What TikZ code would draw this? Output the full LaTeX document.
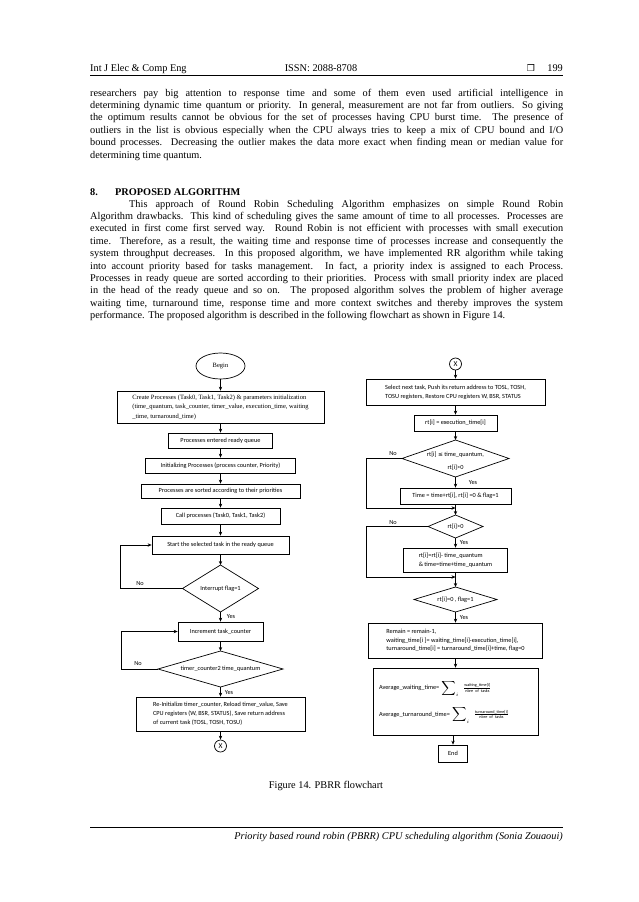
\documentclass[tikz,border=0pt]{standalone}
\usepackage{fontspec}
\setmainfont{Liberation Serif}
\newfontfamily\calfont{Carlito}
\newfontfamily\dvsfont{DejaVu Sans}
\usetikzlibrary{shapes.geometric,arrows.meta}
\newcommand\jline[3]{\node[body] (#1) at (90,#2) {\makebox[473pt][s]{#3}};}
\newcommand\lline[3]{\node[body] (#1) at (90,#2) {#3};}
\begin{document}
\begin{tikzpicture}[x=1pt,y=-1pt,
  body/.style={anchor=base west, inner sep=0pt, font=\fontsize{10.3}{12.4}\selectfont},
  fc/.style={draw, line width=0.7pt, inner sep=1.5pt, align=center, font=\calfont\fontsize{6.3}{9}\selectfont},
  dia/.style={draw, diamond, line width=0.7pt, inner sep=0pt, outer sep=0pt},
  dtxt/.style={inner sep=0pt, align=center, font=\calfont\fontsize{6.3}{8}\selectfont},
  xc/.style={draw, circle, line width=0.7pt, inner sep=0pt, minimum size=12pt, font=\calfont\fontsize{7.5}{8}\selectfont},
  arr/.style={-{Stealth[length=4pt,width=3.4pt]}, line width=0.7pt},
  lbl/.style={inner sep=0pt, font=\calfont\fontsize{6.3}{7}\selectfont}
]
\fill[white] (0,0) rectangle (638,902);
\useasboundingbox (0,0) rectangle (638,902);

% ---------- header ----------
\node[body] (h1) at (90,71) {Int J Elec \& Comp Eng};
\node[body, anchor=base] (h2) at (321,71) {ISSN: 2088-8708};
\node[body, anchor=base] (h3) at (531,71) {{\dvsfont\fontsize{9}{9}\selectfont ❒}};
\node[body, anchor=base east] (h4) at (563,71) {199};
\draw[line width=0.8pt] (90,75) -- (563,75);

% ---------- paragraph 1 ----------
\jline{pa1}{96}{researchers pay big attention to response time and some of them even used artificial intelligence in}
\jline{pa2}{108.4}{determining dynamic time quantum or priority. In general, measurement are not far from outliers. So giving}
\jline{pa3}{120.8}{the optimum results cannot be obvious for the set of processes having CPU burst time. The presence of}
\jline{pa4}{133.2}{outliers in the list is obvious especially when the CPU always tries to keep a mix of CPU bound and I/O}
\jline{pa5}{145.6}{bound processes. Decreasing the outlier makes the data more exact when finding mean or median value for}
\lline{pa6}{158}{determining time quantum.}

% ---------- heading ----------
\node[body, font=\bfseries\fontsize{10.3}{12.4}\selectfont] (hd1) at (90,195) {8.};
\node[body, font=\bfseries\fontsize{10.3}{12.4}\selectfont] (hd2) at (115,195) {PROPOSED ALGORITHM};

% ---------- paragraph 2 ----------
\node[body] (pb1) at (129,207) {\makebox[434pt][s]{This approach of Round Robin Scheduling Algorithm emphasizes on simple Round Robin}};
\jline{pb2}{219.4}{Algorithm drawbacks. This kind of scheduling gives the same amount of time to all processes. Processes are}
\jline{pb3}{231.8}{executed in first come first served way. Round Robin is not efficient with processes with small execution}
\jline{pb4}{244.2}{time. Therefore, as a result, the waiting time and response time of processes increase and consequently the}
\jline{pb5}{256.6}{system throughput decreases. In this proposed algorithm, we have implemented RR algorithm while taking}
\jline{pb6}{269}{into account priority based for tasks management. In fact, a priority index is assigned to each Process.}
\jline{pb7}{281.4}{Processes in ready queue are sorted according to their priorities. Process with small priority index are placed}
\jline{pb8}{293.8}{in the head of the ready queue and so on. The proposed algorithm solves the problem of higher average}
\jline{pb9}{306.2}{waiting time, turnaround time, response time and more context switches and thereby improves the system}
\lline{pb10}{318.6}{performance. The proposed algorithm is described in the following flowchart as shown in Figure 14.}

% ---------- flowchart, left column ----------
\node[fc, ellipse, minimum width=49pt, minimum height=26pt, font=\fontsize{6.5}{8}\selectfont] (begin) at (220.5,366) {Begin};
\node[fc, minimum width=207pt, minimum height=32pt, align=left, font=\fontsize{6.5}{9.5}\selectfont] (create) at (220.5,407)
  {Create Processes (Task0, Task1, Task2) \& parameters initialization\\(time\_quantum, task\_counter, timer\_value, execution\_time, waiting\\\_time, turnaround\_time)};
\node[fc, minimum width=104pt, minimum height=15pt] (entered) at (220.5,440.5) {Processes entered ready queue};
\node[fc, minimum width=150pt, minimum height=15pt] (init) at (220.5,465.5) {Initializing Processes (process counter, Priority)};
\node[fc, minimum width=159pt, minimum height=14pt] (sorted) at (220.5,491) {Processes are sorted according to their priorities};
\node[fc, minimum width=119pt, minimum height=16pt] (call) at (220.5,516) {Call processes (Task0, Task1, Task2)};
\node[fc, minimum width=137pt, minimum height=18pt] (start) at (220.5,545) {Start the selected task in the ready queue};
\node[dia, minimum width=76pt, minimum height=47pt] (intr) at (220.5,588.5) {};
\node[dtxt] (intrt) at (intr.center) {Interrupt flag=1};
\node[fc, minimum width=85pt, minimum height=19pt] (incr) at (220.5,631.5) {Increment task\_counter};
\node[dia, minimum width=125pt, minimum height=36pt] (tmr) at (220.5,669) {};
\node[dtxt] (tmrt) at (tmr.center) {timer\_counter2 time\_quantum};
\node[fc, minimum width=169pt, minimum height=34pt, align=left] (reinit) at (220.5,714)
  {Re-Initialize timer\_counter, Reload timer\_value, Save\\CPU registers (W, BSR, STATUS), Save return address\\of current task (TOSL, TOSH, TOSU)};
\node[xc] (xl) at (220.5,746) {X};

\draw[arr] (begin) -- (create);
\draw[arr] (create) -- (entered);
\draw[arr] (entered) -- (init);
\draw[arr] (init) -- (sorted);
\draw[arr] (sorted) -- (call);
\draw[arr] (call) -- (start);
\draw[arr] (start) -- (intr);
\draw[arr] (intr) -- (incr);
\draw[arr] (incr) -- (tmr);
\draw[arr] (tmr) -- (reinit);
\draw[arr] (reinit) -- (xl);
\draw[arr] (intr.west) -- ++(-62.3,0) |- (start.west);
\draw[arr] (tmr.west) -- ++(-37,0) |- (incr.west);
\node[lbl] (no1) at (140,583) {No};
\node[lbl] (yes1) at (231,616) {Yes};
\node[lbl] (no2) at (138,663) {No};
\node[lbl] (yes2) at (229,692) {Yes};

% ---------- flowchart, right column ----------
\node[xc] (xr) at (455.5,364) {X};
\node[fc, minimum width=179pt, minimum height=26pt, align=left] (select) at (455.5,392)
  {Select next task, Push its return address to TOSL, TOSH,\\TOSU registers, Restore CPU registers W, BSR, STATUS};
\node[fc, minimum width=83pt, minimum height=16pt] (rt) at (455.5,423) {rt[i] = execution\_time[i]};
\node[dia, minimum width=107pt, minimum height=37pt] (d1) at (455.5,458.5) {};
\node[dtxt, font=\calfont\fontsize{6.3}{13}\selectfont] (d1t) at (455.5,461)
  {rt[i] {\dvsfont\fontsize{5.8}{7}\selectfont ≤} time\_quantum,\\rt[i]>0};
\node[fc, minimum width=111pt, minimum height=16pt] (timebox) at (455.5,496) {Time = time+rt[i], rt[i] =0 \& flag=1};
\coordinate (m1) at (455.5,508);
\node[dia, minimum width=55pt, minimum height=23pt] (d2) at (455.5,526.5) {};
\node[dtxt] (d2t) at (d2.center) {rt[i]>0};
\node[fc, minimum width=104pt, minimum height=24pt, align=left] (rtbox) at (455.5,560)
  {rt[i]=rt[i]- time\_quantum\\\& time=time+time\_quantum};
\coordinate (m2) at (455.5,577);
\node[dia, minimum width=83pt, minimum height=25pt] (d3) at (455.5,599.5) {};
\node[dtxt] (d3t) at (d3.center) {rt[i]=0 , flag=1};
\node[fc, minimum width=174pt, minimum height=35pt, align=left, font=\calfont\fontsize{6.3}{8.6}\selectfont] (remain) at (455.5,640.5)
  {Remain = remain-1,\\waiting\_time[i ]= waiting\_time[i]-execution\_time[i],\\turnaround\_time[i] = turnaround\_time[i]+time, flag=0};
\node[fc, minimum width=165pt, minimum height=67pt, text width=153pt, align=left] (avg) at (455.5,701.5)
  {Average\_waiting\_time= $\displaystyle\sum\nolimits_{i}$\ \ $\frac{\hbox{\calfont\fontsize{4.2}{5}\selectfont waiting\_time[i]}}{\hbox{\calfont\fontsize{4.2}{5}\selectfont nbre of tasks}}$\\[9pt]
   Average\_turnaround\_time= $\displaystyle\sum\nolimits_{i}$\ \ $\frac{\hbox{\calfont\fontsize{4.2}{5}\selectfont turnaround\_time[i]}}{\hbox{\calfont\fontsize{4.2}{5}\selectfont nbre of tasks}}$};
\node[fc, minimum width=29pt, minimum height=17pt] (endn) at (453,753.5) {End};

\draw[arr] (xr) -- (select);
\draw[arr] (select) -- (rt);
\draw[arr] (rt) -- (d1);
\draw[arr] (d1) -- (timebox);
\draw[arr] (timebox) -- (d2);
\draw[arr] (d2) -- (rtbox);
\draw[arr] (rtbox) -- (d3);
\draw[arr] (d3) -- (remain);
\draw[arr] (remain) -- (avg);
\draw[arr] (endn.north |- avg.south) -- (endn.north);
\draw[arr] (d1.west) -- ++(-36,0) |- (m1);
\draw[arr] (d2.west) -- ++(-62,0) |- (m2);
\node[lbl] (no3) at (393,453) {No};
\node[lbl] (yes3) at (473,482) {Yes};
\node[lbl] (no4) at (393,522) {No};
\node[lbl] (yes4) at (464,542) {Yes};
\node[lbl] (yes5) at (464,617) {Yes};

% ---------- caption and footer ----------
\node[body, anchor=base] (cap) at (326,788) {Figure 14. PBRR flowchart};
\draw[line width=0.8pt] (90,827) -- (563,827);
\node[body, anchor=base east] (foot) at (563,839) {\itshape Priority based round robin (PBRR) CPU scheduling algorithm (Sonia Zouaoui)};
\end{tikzpicture}
\end{document}
